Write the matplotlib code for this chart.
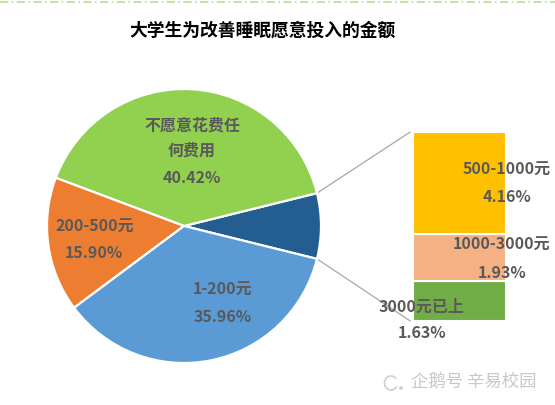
import numpy as np
import matplotlib
matplotlib.use("Agg")
import matplotlib.pyplot as plt
from matplotlib.patches import ConnectionPatch, Arc, Circle

plt.rcParams['font.family'] = ['Noto Sans CJK SC', 'DejaVu Sans']

# ---- data ----
title = "大学生为改善睡眠愿意投入的金额"
pie_labels = ["不愿意花费任\n何费用", "200-500元", "1-200元"]
pie_values = [40.42, 15.90, 35.96]
pie_colors = ["#92D050", "#ED7D31", "#5B9BD5"]
other_color = "#245E91"

bar_labels = ["500-1000元", "1000-3000元", "3000元已上"]
bar_values = [4.16, 1.93, 1.63]
bar_colors = ["#FFC000", "#F4B183", "#70AD47"]

watermark = "企鹅号 辛易校园"

W, H = 555, 405
fig = plt.figure(figsize=(W / 100, H / 100), dpi=100)

# bar axes (drawn below main axes)
bx0, bx1, by0, by1 = 413, 506, 132, 321
bax = fig.add_axes([bx0 / W, (H - by1) / H, (bx1 - bx0) / W, (by1 - by0) / H])
bax.set_zorder(1)
other = sum(bar_values)
bottom = 0.0
for v, c in zip(bar_values[::-1], bar_colors[::-1]):
    bax.bar(0, v, bottom=bottom, width=1.0, color=c, edgecolor="white", linewidth=1.5)
    bottom += v
bax.set_xlim(-0.5, 0.5)
bax.set_ylim(0, other)
bax.axis('off')

ax = fig.add_axes([0, 0, 1, 1])
ax.set_zorder(2)
ax.patch.set_alpha(0)

values = [other] + pie_values
colors = [other_color] + pie_colors
start = -other / 100 * 360 / 2
cx, cy, R = 184, H - 226, 137
wedges, _ = ax.pie(values, colors=colors, startangle=start, counterclock=True,
                   center=(cx, cy), radius=R,
                   wedgeprops=dict(edgecolor="white", linewidth=1.6))
ax.set_xlim(0, W)
ax.set_ylim(0, H)
ax.set_aspect('auto')
ax.axis('off')

tc = "#595959"
fs = 11.5
fw = 'bold'
# pie labels
ax.text(192, H - 138, pie_labels[0], ha='center', va='center', fontsize=fs,
        fontweight=fw, color=tc, linespacing=1.75)
ax.text(192, H - 178, f"{pie_values[0]:.2f}%", ha='center', va='center', fontsize=fs,
        fontweight=fw, color=tc)
ax.text(95, H - 227, pie_labels[1], ha='center', va='center', fontsize=fs,
        fontweight=fw, color=tc)
ax.text(94, H - 253, f"{pie_values[1]:.2f}%", ha='center', va='center', fontsize=fs,
        fontweight=fw, color=tc)
ax.text(223, H - 290, pie_labels[2], ha='center', va='center', fontsize=fs,
        fontweight=fw, color=tc)
ax.text(223, H - 317, f"{pie_values[2]:.2f}%", ha='center', va='center', fontsize=fs,
        fontweight=fw, color=tc)

# connectors
w = wedges[0]
for ang, yb in [(w.theta2, other), (w.theta1, 0)]:
    px = cx + R * np.cos(np.deg2rad(ang))
    py = cy + R * np.sin(np.deg2rad(ang))
    con = ConnectionPatch(xyA=(px, py), coordsA=ax.transData,
                          xyB=(-0.53, yb), coordsB=bax.transData,
                          color="#A6A6A6", linewidth=0.9)
    fig.add_artist(con)

# bar labels
bl = [(507, 170, 197), (502, 245, 273), (422, 307, 333)]
for (x, y1, y2), lab, v in zip(bl, bar_labels, bar_values):
    ax.text(x, H - y1, lab, ha='center', va='center', fontsize=fs,
            fontweight=fw, color=tc, zorder=5)
    ax.text(x, H - y2, f"{v:.2f}%", ha='center', va='center', fontsize=fs,
            fontweight=fw, color=tc, zorder=5)

# title
ax.text(262, H - 31, title, ha='center', va='center', fontsize=12.8,
        fontweight=fw, color='black')

# top dashed border
ax.plot([0, W], [H - 1.5, H - 1.5], color="#B8E08C", linewidth=1.2,
        linestyle=(0, (5, 2, 1, 2)))

# watermark
ax.add_patch(Arc((391, H - 383), 13, 14, theta1=40, theta2=330, color="#CFCFCF", lw=1.2))
ax.add_patch(Circle((401, H - 388), 1.2, color="#CFCFCF"))
ax.text(474, H - 382, watermark, ha='center', va='center', fontsize=12.5,
        color="#C8C8C8")

fig.savefig("out.png", dpi=100)
